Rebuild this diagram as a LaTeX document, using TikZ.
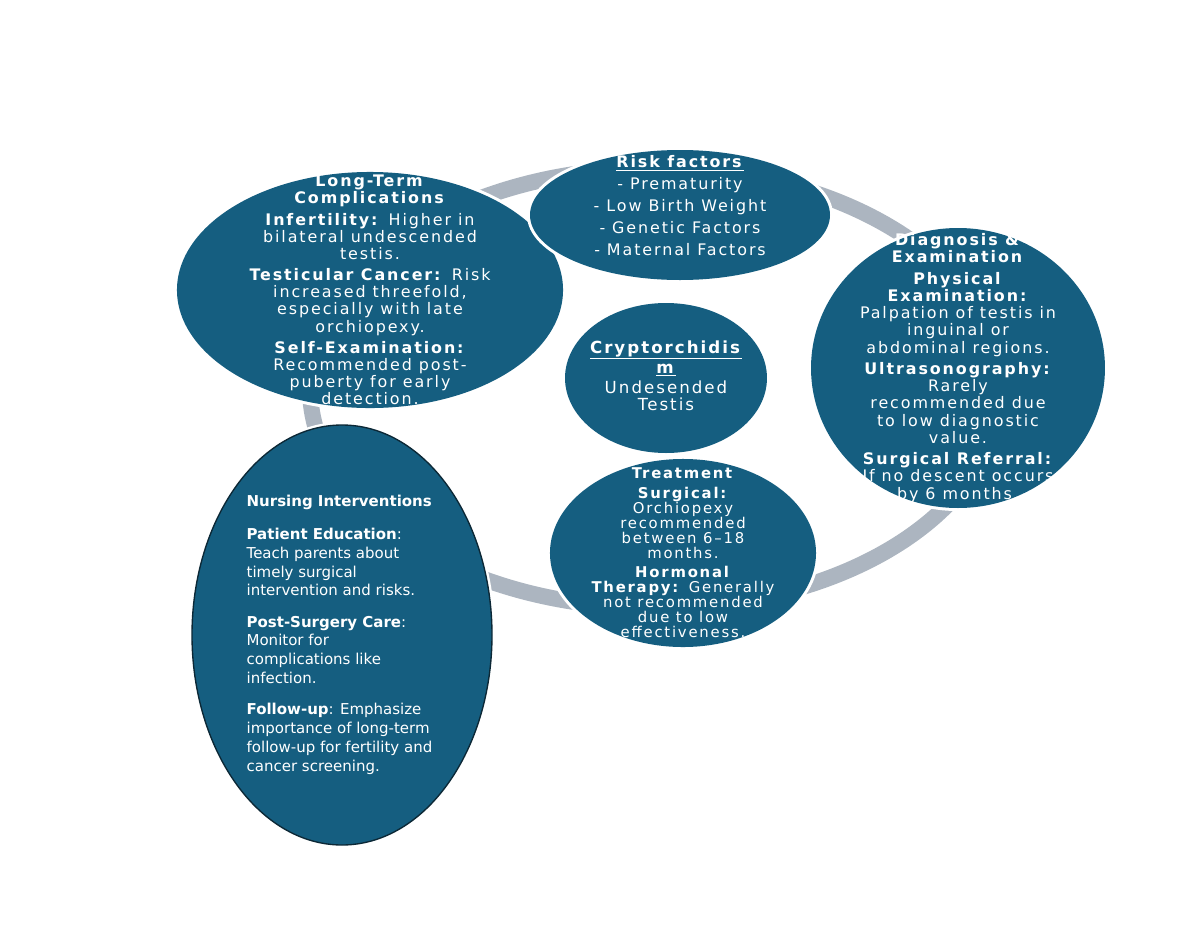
\documentclass[tikz,border=0pt]{standalone}
\usepackage{fontspec}
\setmainfont{DejaVu Sans}[LetterSpace=12]
\newfontfamily\nursefont{DejaVu Sans}
\usetikzlibrary{shapes.geometric}
\definecolor{blobblue}{RGB}{21,94,128}
\definecolor{ringgray}{RGB}{172,181,192}
\definecolor{rimdark}{RGB}{12,40,54}
\begin{document}
\begin{tikzpicture}[x=0.66pt, y=-0.66pt,
  blob/.style={ellipse, fill=blobblue, inner sep=0pt, preaction={draw=white, line width=4pt}},
  rimblob/.style={blob, draw=rimdark, line width=0.9pt},
  ring/.style={draw=ringgray, line width=10.6pt},
  txt/.style={text=white, align=center, inner sep=0pt}
]
  \useasboundingbox (0,0) rectangle (1200,927);
  \coordinate (hub) at (655,388);

  \draw[ring] (hub) ellipse [x radius=227.7pt, y radius=145.2pt];

  \node[blob, minimum width=254.8pt, minimum height=155.8pt] (lt) at (370,290) {};
  \node[blob, minimum width=198pt, minimum height=85.8pt] (risk) at (680,215) {};
  \node[blob, minimum width=194pt, minimum height=184.8pt] (diag) at (958,368) {};
  \node[blob, minimum width=133.3pt, minimum height=99pt] (crypt) at (666,378) {};
  \node[blob, minimum width=175.6pt, minimum height=124.1pt] (treat) at (683,553) {};
  \node[rimblob, minimum width=198pt, minimum height=277.2pt] (nurse) at (342,635) {};

  \node[txt, font={\fontsize{10.5}{11.3}\selectfont}] (lt-t) at (lt.center)
    {\textbf{Long-Term}\\ \textbf{Complications}\\[2.8pt]
     \textbf{Infertility:} Higher in\\ bilateral undescended\\ testis.\\[2.8pt]
     \textbf{Testicular Cancer:} Risk\\ increased threefold,\\ especially with late\\ orchiopexy.\\[2.8pt]
     \textbf{Self-Examination:}\\ Recommended post-\\ puberty for early\\ detection.};
  \node[txt, font={\fontsize{10.5}{14.5}\selectfont}] (risk-t) at ([yshift=6pt]risk.center)
    {\underline{\textbf{Risk factors}}\\ - Prematurity\\ - Low Birth Weight\\
     - Genetic Factors\\ - Maternal Factors};
  \node[txt, font={\fontsize{10.5}{11.3}\selectfont}] (diag-t) at (diag.center)
    {\textbf{Diagnosis \& }\\ \textbf{Examination}\\[3pt]
     \textbf{Physical}\\ \textbf{Examination:}\\ Palpation of testis in\\ inguinal or\\ abdominal regions.\\[3pt]
     \textbf{Ultrasonography:}\\ Rarely\\ recommended due\\ to low diagnostic\\ value.\\[3pt]
     \textbf{Surgical Referral:}\\ If no descent occurs\\ by 6 months.};
  \node[txt, font={\fontsize{11}{11.5}\selectfont}] (crypt-t) at ([yshift=1.5pt]crypt.center)
    {\underline{\textbf{Cryptorchidis}}\\[1.8pt] \underline{\textbf{m}}\\[1.8pt] Undesended\\ Testis};
  \node[txt, font={\fontsize{9.8}{9.9}\selectfont}] (treat-t) at (treat.center)
    {\textbf{Treatment}\\[3pt] \textbf{Surgical:}\\ Orchiopexy\\ recommended\\ between 6–18\\ months.\\[3pt]
     \textbf{Hormonal}\\ \textbf{Therapy:} Generally\\ not recommended\\ due to low\\ effectiveness.};
  \node[txt, align=left, anchor=west, font={\nursefont\fontsize{9.9}{12.5}\selectfont}] (nurse-t)
    at ([xshift=36.3pt]nurse.west)
    {\textbf{Nursing Interventions}\\[9pt]
     \textbf{Patient Education}:\\ Teach parents about\\ timely surgical\\ intervention and risks.\\[8pt]
     \textbf{Post-Surgery Care}:\\ Monitor for\\ complications like\\ infection.\\[8pt]
     \textbf{Follow-up}: Emphasize\\ importance of long-term\\ follow-up for fertility and\\ cancer screening.};
\end{tikzpicture}
\end{document}
